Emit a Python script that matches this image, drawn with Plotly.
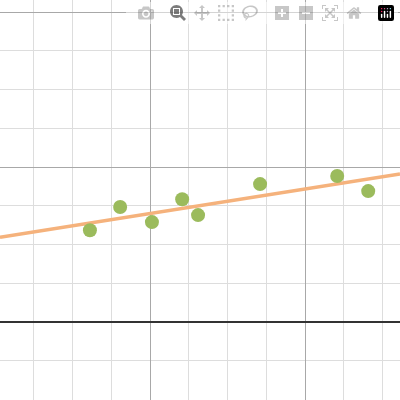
import plotly.graph_objects as go

xs = [-1.55, -0.77, 0.05, 0.83, 1.24, 2.84, 4.83, 5.63]
ys = [2.37, 2.97, 2.58, 3.17, 2.76, 3.56, 3.77, 3.38]
line_x = [-3.87, 6.45]
slope, intercept = 0.158, 2.80

fig = go.Figure()
fig.add_trace(go.Scatter(x=line_x, y=[slope*v+intercept for v in line_x], mode="lines",
                         line=dict(color="#f5b27c", width=3.5), hoverinfo="skip"))
fig.add_trace(go.Scatter(x=xs, y=ys, mode="markers",
                         marker=dict(color="#9bbb5c", size=14)))
ax = dict(showticklabels=False, ticks="", showline=False,
          gridcolor="#a8a8a8", gridwidth=1.2, dtick=4, tick0=0,
          minor=dict(dtick=1, tick0=0, showgrid=True, gridcolor="#dddddd", gridwidth=1))
fig.update_xaxes(range=[-3.87, 6.45], zeroline=False, **ax)
fig.update_yaxes(range=[-2.01, 8.31], zeroline=True, zerolinecolor="#333333", zerolinewidth=2, **ax)
fig.update_layout(width=400, height=400, margin=dict(l=0, r=0, t=0, b=0),
                  plot_bgcolor="white", paper_bgcolor="white", showlegend=False)
fig.write_html("out.html")
with open("out.html", encoding="utf-8") as f:
    html = f.read()
html = html.replace("<body>", '<body style="margin:0;padding:0;overflow:hidden">', 1)
with open("out.html", "w", encoding="utf-8") as f:
    f.write(html)
